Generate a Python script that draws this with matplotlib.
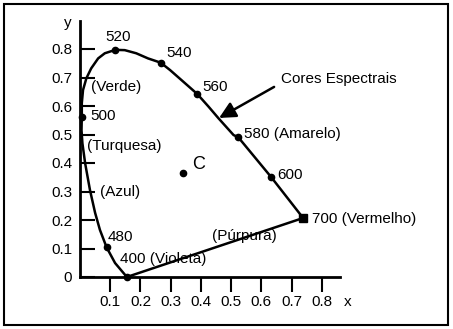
import matplotlib
matplotlib.use("Agg")
import matplotlib.pyplot as plt
from matplotlib.patches import Rectangle

plt.rcParams['font.family'] = ['Liberation Sans', 'DejaVu Sans']
plt.rcParams['font.size'] = 11

# spectral locus, starting at 400 nm going round to 700 nm
locus_x = [0.155, 0.116, 0.088, 0.066, 0.050, 0.033, 0.017, 0.008, 0.005, 0.006,
           0.006, 0.010, 0.021, 0.037, 0.060, 0.082, 0.117, 0.148, 0.186, 0.225,
           0.267, 0.298, 0.342, 0.388, 0.425, 0.458, 0.508, 0.523, 0.632, 0.738]
locus_y = [0.000, 0.049, 0.104, 0.165, 0.225, 0.305, 0.399, 0.469, 0.515, 0.562,
           0.610, 0.656, 0.697, 0.732, 0.767, 0.785, 0.797, 0.796, 0.785, 0.767,
           0.752, 0.726, 0.685, 0.642, 0.598, 0.557, 0.498, 0.491, 0.351, 0.207]

# marked wavelengths
marks_nm = [400, 480, 500, 520, 540, 560, 580, 600, 700]
marks_x = [0.155, 0.088, 0.006, 0.117, 0.267, 0.388, 0.523, 0.632, 0.738]
marks_y = [0.000, 0.104, 0.562, 0.797, 0.752, 0.642, 0.491, 0.351, 0.207]

# illuminant C
c_x, c_y = 0.34, 0.365

xticks = [0.1, 0.2, 0.3, 0.4, 0.5, 0.6, 0.7, 0.8]
yticks = [0, 0.1, 0.2, 0.3, 0.4, 0.5, 0.6, 0.7, 0.8]

fig = plt.figure(figsize=(4.53, 3.29), dpi=100)
ax = fig.add_axes([80 / 453, 52 / 329, 260 / 453, 256.5 / 329])
ax.set_xlim(0, 0.86)
ax.set_ylim(0, 0.90)

# locus plus the purple line closing it
ax.plot(locus_x + [locus_x[0]], locus_y + [locus_y[0]], color='black', lw=1.8,
        clip_on=False, solid_joinstyle='round')
ax.plot(marks_x[:-1], marks_y[:-1], 'o', color='black', ms=4.5, clip_on=False)
ax.plot(marks_x[-1], marks_y[-1], 's', color='black', ms=5.5, clip_on=False)
ax.plot(c_x, c_y, 'o', color='black', ms=4.5)

for s in ['top', 'right']:
    ax.spines[s].set_visible(False)
for s in ['left', 'bottom']:
    ax.spines[s].set_linewidth(2)

ax.set_xticks(xticks)
ax.set_xticklabels([f'{v:g}' for v in xticks])
ax.set_yticks(yticks)
ax.set_yticklabels([f'{v:g}' for v in yticks])
ax.tick_params(axis='y', direction='in', length=11, width=1.5, pad=5.5, labelsize=11)
ax.tick_params(axis='x', direction='out', length=11, width=1.5, pad=2, labelsize=11)

ax.text(0.884, -0.088, 'x', ha='center', va='center')
ax.text(-0.04, 0.89, 'y', ha='center', va='center')

labels = [
    ('520', 0.083, 0.842), ('540', 0.285, 0.786), ('560', 0.404, 0.667),
    ('(Verde)', 0.036, 0.667), ('500', 0.033, 0.565), ('(Turquesa)', 0.023, 0.46),
    ('(Azul)', 0.066, 0.298), ('480', 0.093, 0.14), ('400 (Violeta)', 0.132, 0.063),
    ('(Púrpura)', 0.437, 0.144), ('600', 0.652, 0.358), ('700 (Vermelho)', 0.768, 0.204),
    ('580 (Amarelo)', 0.543, 0.502), ('Cores Espectrais', 0.666, 0.695),
]
for txt, tx, ty in labels:
    ax.text(tx, ty, txt, ha='left', va='center')
ax.text(0.371, 0.393, 'C', ha='left', va='center', fontsize=13)

ax.annotate('', xy=(0.46, 0.558), xytext=(0.642, 0.667),
            arrowprops=dict(arrowstyle='-|>,head_length=0.9,head_width=0.45',
                            color='black', lw=1.8, shrinkA=0, shrinkB=0))

fig.patches.append(Rectangle((4 / 453, 4 / 329), 444 / 453, 321 / 329,
                             transform=fig.transFigure, fill=False,
                             edgecolor='black', lw=1.5))

fig.savefig('out.png', dpi=100)
